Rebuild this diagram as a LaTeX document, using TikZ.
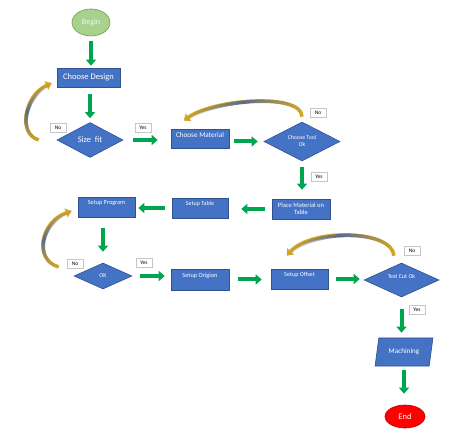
\documentclass[tikz,border=0pt]{standalone}
\usepackage{fontspec}
\setmainfont{Carlito}
\usetikzlibrary{shapes.geometric,arrows.meta,fadings,calc}

\definecolor{boxblue}{HTML}{4472C4}
\definecolor{boxedge}{HTML}{2F528F}
\definecolor{flowgreen}{HTML}{00A550}
\definecolor{startgreen}{HTML}{A9D18E}
\definecolor{startedge}{HTML}{6E9E4B}
\definecolor{loopgold}{HTML}{D9AA1E}
\definecolor{loopslate}{HTML}{5B6B8C}

\tikzfading[name=midfade, left color=transparent!100, right color=transparent!100, middle color=transparent!0]

\begin{document}
\begin{tikzpicture}[x=1pt,y=-1pt,
	textsize/.style={font=\fontsize{#1}{7}\selectfont},
	raised/.style={text depth=#1},
	box/.style={rectangle, fill=boxblue, draw=boxedge, line width=0.6pt, text=white, inner sep=1pt, align=center},
	decision/.style={diamond, aspect=2, fill=boxblue, draw=boxedge, line width=0.6pt, text=white, inner sep=0pt, align=center},
	slanted/.style={trapezium, trapezium left angle=70, trapezium right angle=110, trapezium stretches=true, fill=boxblue, draw=boxedge, line width=0.6pt, text=white, inner sep=0pt},
	start/.style={ellipse, fill=startgreen, draw=startedge, line width=0.6pt, text=white!92!green, inner sep=0pt},
	stop/.style={ellipse, fill=red, draw=red!75!black, line width=0.6pt, text=white, inner sep=0pt},
	tag/.style={rectangle, fill=white, draw=gray!45, line width=0.4pt, textsize=5.5, inner sep=0pt, minimum width=16pt, minimum height=9pt},
	flow/.style={draw=flowgreen, line width=4pt, -{Triangle[length=6pt,width=10pt]}},
	backloop/.style={draw=loopgold, line width=3.5pt, -{Triangle[length=6pt,width=9pt]}},
	backshade/.style={postaction={draw=loopslate, -, line width=3.5pt, path fading=midfade, fading angle=#1}}]
\fill[white] (0,0) rectangle (474,438);
% steps
\node[start, minimum width=38pt, minimum height=27pt, textsize=8] (begin) at (91,22.5) {Begin};
\node[box, minimum width=63pt, minimum height=19pt, textsize=8.5] (design) at (88.5,77.5) {Choose Design};
\node[decision, minimum width=66pt, minimum height=35pt, textsize=8.5] (sizefit) at (90,140) {Size\ \ fit};
\node[box, minimum width=58pt, minimum height=19pt, textsize=7.2, raised=7pt] (material) at (200,138.5) {Choose Material};
\node[decision, minimum width=76pt, minimum height=39pt, textsize=5.8] (tool) at (302,141.5) {Choose Tool\\Ok};
\node[box, minimum width=58pt, minimum height=20pt, textsize=6.5] (place) at (301,209) {Place Material on\\Table};
\node[box, minimum width=56pt, minimum height=20pt, textsize=6, raised=9pt] (table) at (200,208) {Setup Table};
\node[box, minimum width=57pt, minimum height=20pt, textsize=6.2, raised=9pt] (program) at (106.5,207) {Setup Program};
\node[decision, minimum width=58pt, minimum height=26pt, textsize=6] (ok) at (103,276) {OK};
\node[box, minimum width=58pt, minimum height=21pt, textsize=6.3, raised=8pt] (origin) at (200,279.5) {Setup Origion};
\node[box, minimum width=57pt, minimum height=20pt, textsize=6.1, raised=9pt] (offset) at (299.5,279) {Setup Offset};
\node[decision, minimum width=75pt, minimum height=34pt, textsize=6, raised=7pt] (testcut) at (401.5,280) {Test Cut Ok};
\node[slanted, minimum width=58pt, minimum height=28pt, textsize=7.2] (machining) at (404,352) {Machining};
\node[stop, minimum width=40pt, minimum height=23pt, textsize=8.5] (finish) at (405,416.5) {End};
% yes / no tags
\node[tag] (nofit) at (58,127.5) {No};
\node[tag] (yesfit) at (143,128) {Yes};
\node[tag] (notool) at (318,113) {No};
\node[tag] (yestool) at (319,177) {Yes};
\node[tag] (nook) at (75,263.5) {No};
\node[tag] (yesok) at (144,263) {Yes};
\node[tag] (nocut) at (412,251) {No};
\node[tag] (yescut) at (417,310) {Yes};
% flow
\draw[flow, shorten <=5pt, shorten >=2pt] (begin.south) -- (begin.south |- design.north);
\draw[flow, shorten <=7pt, shorten >=4pt] (design.south -| sizefit.north) -- (sizefit.north);
\draw[flow, shorten <=10pt, shorten >=13pt] (sizefit.east) -- (sizefit.east -| material.west);
\draw[flow, shorten <=5pt, shorten >=6pt] (tool.west -| material.east) -- (tool.west);
\draw[flow, shorten <=6pt, shorten >=9pt] (tool.south) -- (tool.south |- place.north);
\draw[flow, shorten <=7pt, shorten >=13pt] (place.west) -- (place.west -| table.east);
\draw[flow, shorten <=7pt, shorten >=3pt] (table.west) -- (table.west -| program.east);
\draw[flow, shorten <=11pt, shorten >=11pt] (ok.north |- program.south) -- (ok.north);
\draw[flow, shorten <=8pt, shorten >=6pt] (ok.east) -- (ok.east -| origin.west);
\draw[flow, shorten <=9pt, shorten >=9pt] (origin.east) -- (origin.east -| offset.west);
\draw[flow, shorten <=8pt, shorten >=4pt] (offset.east) -- (offset.east -| testcut.west);
\draw[flow, shorten <=12pt, shorten >=5pt] (testcut.south) -- (testcut.south |- machining.north);
\draw[flow, shorten <=4pt, shorten >=11pt] (machining.south) -- (machining.south |- finish.north);
% going back
\draw[backloop, backshade=90] ($(sizefit.west)+(-18,0)$) .. controls +(-21,-6) and +(-28,13) .. ($(design.west)+(-5,5.5)$);
\draw[backloop, backshade=0] ($(tool.north)+(0,-5)$) .. controls +(0,-24) and +(30,-22) .. ($(material.north west)+(13,-8)$);
\draw[backloop, backshade=90] ($(ok.west)+(-15,-9)$) .. controls +(-25,-7) and +(-32,11) .. ($(program.west)+(-6,4)$);
\draw[backloop, backshade=0] ($(testcut.north)+(-7.5,-7)$) .. controls +(-2,-26) and +(25,-28) .. ($(offset.north west)+(16,-13)$);
\end{tikzpicture}
\end{document}
